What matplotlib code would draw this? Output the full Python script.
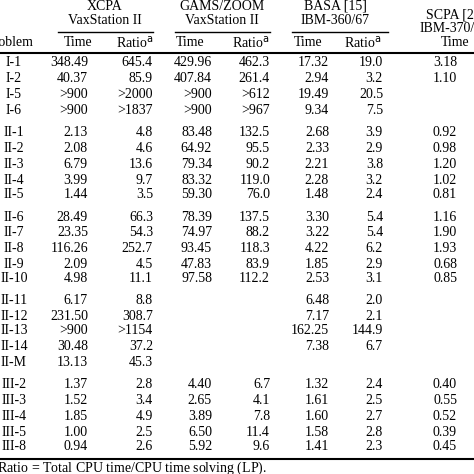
import matplotlib
matplotlib.use("Agg")
import matplotlib.pyplot as plt
from matplotlib.lines import Line2D

problems = ["I-1","I-2","I-5","I-6",
            "II-1","II-2","II-3","II-4","II-5",
            "II-6","II-7","II-8","II-9","II-10",
            "II-11","II-12","II-13","II-14","II-M",
            "III-2","III-3","III-4","III-5","III-8"]
xcpa_time = ["348.49","40.37",">900",">900","2.13","2.08","6.79","3.99","1.44",
             "28.49","23.35","116.26","2.09","4.98","6.17","231.50",">900","30.48","13.13",
             "1.37","1.52","1.85","1.00","0.94"]
xcpa_ratio = ["645.4","85.9",">2000",">1837","4.8","4.6","13.6","9.7","3.5",
              "66.3","54.3","252.7","4.5","11.1","8.8","308.7",">1154","37.2","45.3",
              "2.8","3.4","4.9","2.5","2.6"]
gams_time = ["429.96","407.84",">900",">900","83.48","64.92","79.34","83.32","59.30",
             "78.39","74.97","93.45","47.83","97.58","","","","","",
             "4.40","2.65","3.89","6.50","5.92"]
gams_ratio = ["462.3","261.4",">612",">967","132.5","95.5","90.2","119.0","76.0",
              "137.5","88.2","118.3","83.9","112.2","","","","","",
              "6.7","4.1","7.8","11.4","9.6"]
basa_time = ["17.32","2.94","19.49","9.34","2.68","2.33","2.21","2.28","1.48",
             "3.30","3.22","4.22","1.85","2.53","6.48","7.17","162.25","7.38","",
             "1.32","1.61","1.60","1.58","1.41"]
basa_ratio = ["19.0","3.2","20.5","7.5","3.9","2.9","3.8","3.2","2.4",
              "5.4","5.4","6.2","2.9","3.1","2.0","2.1","144.9","6.7","",
              "2.4","2.5","2.7","2.8","2.3"]
scpa_time = ["3.18","1.10","","","0.92","0.98","1.20","1.02","0.81",
             "1.16","1.90","1.93","0.68","0.85","","","","","",
             "0.40","0.55","0.52","0.39","0.45"]

W = H = 474
fig = plt.figure(figsize=(4.74, 4.74), dpi=100)
fig.patch.set_facecolor("white")
FONT = "Liberation Serif"
FS = 10

def T(x, y, s, ha="center", fs=FS):
    fig.text(x / W, 1 - y / H, s, ha=ha, va="center", fontsize=fs, family=FONT)

def L(x0, x1, y, lw=1.0):
    fig.add_artist(Line2D([x0 / W, x1 / W], [1 - y / H, 1 - y / H], color="black", lw=lw,
                          transform=fig.transFigure))

row_y = [63, 79, 95, 110,
         133, 148, 164, 180, 195,
         218, 233, 249, 264, 279,
         301, 316, 331, 347, 363,
         385, 401, 416, 432, 447]

# headers
T(105, 6, "XCPA"); T(105, 21, "VaxStation II")
T(222, 6, "GAMS/ZOOM"); T(222, 21, "VaxStation II")
T(335, 6, "BASA [15]"); T(335, 21, "IBM-360/67")
T(452, 15, "SCPA [2]"); T(458, 29, "IBM-370/168")
L(58, 153, 32); L(175, 270, 32); L(292, 388, 32)
T(10, 43, "Problem")
T(78, 43, "Time"); T(135, 43, "Ratio$^{\\mathrm{a}}$")
T(190, 43, "Time"); T(251, 43, "Ratio$^{\\mathrm{a}}$")
T(308, 43, "Time"); T(363, 43, "Ratio$^{\\mathrm{a}}$")
T(455, 43, "Time")
L(0, 474, 53, 1.5)

cols = [(xcpa_time, 88), (xcpa_ratio, 153), (gams_time, 212), (gams_ratio, 270),
        (basa_time, 329), (basa_ratio, 383), (scpa_time, 457)]
for i, y in enumerate(row_y):
    T(14, y, problems[i])
    for vals, xr in cols:
        if vals[i]:
            T(xr, y, vals[i], ha="right")

L(0, 474, 459, 1.5)
T(-9, 469, "$^{\\mathrm{a}}$Ratio = Total CPU time/CPU time solving (LP).", ha="left")

fig.savefig("out.png", dpi=100, facecolor="white")
